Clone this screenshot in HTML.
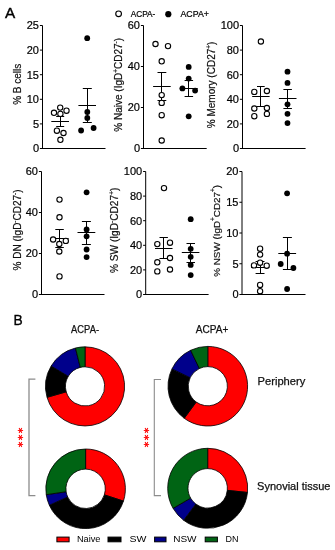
<!DOCTYPE html>
<html><head><meta charset="utf-8"><title>Figure</title>
<style>html,body{margin:0;padding:0;background:#fff;width:335px;height:550px;overflow:hidden}</style>
</head><body>
<svg width="335" height="550" viewBox="0 0 335 550" style="display:block;font-family:'Liberation Sans', Arial, sans-serif"><line x1="42.5" y1="25.5" x2="42.5" y2="149" stroke="#000" stroke-width="1"/>
<line x1="42" y1="148.5" x2="105.5" y2="148.5" stroke="#000" stroke-width="1"/>
<line x1="39.9" y1="148.5" x2="42.5" y2="148.5" stroke="#000" stroke-width="1"/>
<text x="39" y="152.4" font-size="11" text-anchor="end" fill="#000" stroke="#000" stroke-width="0.2">0</text>
<line x1="39.9" y1="123.9" x2="42.5" y2="123.9" stroke="#000" stroke-width="1"/>
<text x="39" y="127.8" font-size="11" text-anchor="end" fill="#000" stroke="#000" stroke-width="0.2">5</text>
<line x1="39.9" y1="99.3" x2="42.5" y2="99.3" stroke="#000" stroke-width="1"/>
<text x="39" y="103.2" font-size="11" text-anchor="end" fill="#000" stroke="#000" stroke-width="0.2">10</text>
<line x1="39.9" y1="74.7" x2="42.5" y2="74.7" stroke="#000" stroke-width="1"/>
<text x="39" y="78.6" font-size="11" text-anchor="end" fill="#000" stroke="#000" stroke-width="0.2">15</text>
<line x1="39.9" y1="50.1" x2="42.5" y2="50.1" stroke="#000" stroke-width="1"/>
<text x="39" y="54" font-size="11" text-anchor="end" fill="#000" stroke="#000" stroke-width="0.2">20</text>
<line x1="39.9" y1="25.5" x2="42.5" y2="25.5" stroke="#000" stroke-width="1"/>
<text x="39" y="29.4" font-size="11" text-anchor="end" fill="#000" stroke="#000" stroke-width="0.2">25</text>
<line x1="60.5" y1="116.5" x2="60.5" y2="126.5" stroke="#000" stroke-width="1"/>
<line x1="51.3" y1="121.5" x2="69" y2="121.5" stroke="#000" stroke-width="1"/>
<line x1="56.2" y1="116.5" x2="64.2" y2="116.5" stroke="#000" stroke-width="1"/>
<line x1="56.2" y1="126.5" x2="64.2" y2="126.5" stroke="#000" stroke-width="1"/>
<line x1="87.5" y1="88.5" x2="87.5" y2="122.5" stroke="#000" stroke-width="1"/>
<line x1="78.4" y1="105.5" x2="96" y2="105.5" stroke="#000" stroke-width="1"/>
<line x1="82.8" y1="88.5" x2="91.8" y2="88.5" stroke="#000" stroke-width="1"/>
<line x1="82.8" y1="122.5" x2="91.8" y2="122.5" stroke="#000" stroke-width="1"/>
<circle cx="60.2" cy="107.6" r="2.65" fill="#fff" stroke="#000" stroke-width="1.1"/>
<circle cx="54" cy="112.8" r="2.65" fill="#fff" stroke="#000" stroke-width="1.1"/>
<circle cx="66.5" cy="110.7" r="2.65" fill="#fff" stroke="#000" stroke-width="1.1"/>
<circle cx="60.4" cy="113.9" r="2.65" fill="#fff" stroke="#000" stroke-width="1.1"/>
<circle cx="56.9" cy="130.7" r="2.65" fill="#fff" stroke="#000" stroke-width="1.1"/>
<circle cx="63.5" cy="133" r="2.65" fill="#fff" stroke="#000" stroke-width="1.1"/>
<circle cx="60.4" cy="139.8" r="2.65" fill="#fff" stroke="#000" stroke-width="1.1"/>
<circle cx="87.2" cy="38.2" r="2.9" fill="#000"/>
<circle cx="87.3" cy="112" r="2.9" fill="#000"/>
<circle cx="87.3" cy="118" r="2.9" fill="#000"/>
<circle cx="81.1" cy="130.5" r="2.9" fill="#000"/>
<circle cx="93.6" cy="128" r="2.9" fill="#000"/>
<text transform="translate(20.6,84.3) rotate(-90)" font-size="10" text-anchor="middle" fill="#111" stroke="#111" stroke-width="0.2">% B cells</text>
<line x1="143.5" y1="25.5" x2="143.5" y2="149" stroke="#000" stroke-width="1"/>
<line x1="143" y1="148.5" x2="206.7" y2="148.5" stroke="#000" stroke-width="1"/>
<line x1="140.9" y1="148.5" x2="143.5" y2="148.5" stroke="#000" stroke-width="1"/>
<text x="140" y="152.4" font-size="11" text-anchor="end" fill="#000" stroke="#000" stroke-width="0.2">0</text>
<line x1="140.9" y1="107.5" x2="143.5" y2="107.5" stroke="#000" stroke-width="1"/>
<text x="140" y="111.4" font-size="11" text-anchor="end" fill="#000" stroke="#000" stroke-width="0.2">20</text>
<line x1="140.9" y1="66.5" x2="143.5" y2="66.5" stroke="#000" stroke-width="1"/>
<text x="140" y="70.4" font-size="11" text-anchor="end" fill="#000" stroke="#000" stroke-width="0.2">40</text>
<line x1="140.9" y1="25.5" x2="143.5" y2="25.5" stroke="#000" stroke-width="1"/>
<text x="140" y="29.4" font-size="11" text-anchor="end" fill="#000" stroke="#000" stroke-width="0.2">60</text>
<line x1="161.5" y1="72.5" x2="161.5" y2="100.5" stroke="#000" stroke-width="1"/>
<line x1="153.1" y1="86.5" x2="170.7" y2="86.5" stroke="#000" stroke-width="1"/>
<line x1="157.5" y1="72.5" x2="166.3" y2="72.5" stroke="#000" stroke-width="1"/>
<line x1="157.5" y1="100.5" x2="166.3" y2="100.5" stroke="#000" stroke-width="1"/>
<line x1="188.5" y1="80.5" x2="188.5" y2="96.5" stroke="#000" stroke-width="1"/>
<line x1="179.8" y1="88.5" x2="197.7" y2="88.5" stroke="#000" stroke-width="1"/>
<line x1="184.6" y1="80.5" x2="193.1" y2="80.5" stroke="#000" stroke-width="1"/>
<line x1="184.6" y1="96.5" x2="193.1" y2="96.5" stroke="#000" stroke-width="1"/>
<circle cx="155.5" cy="44" r="2.65" fill="#fff" stroke="#000" stroke-width="1.1"/>
<circle cx="168" cy="46.1" r="2.65" fill="#fff" stroke="#000" stroke-width="1.1"/>
<circle cx="161.7" cy="61.3" r="2.65" fill="#fff" stroke="#000" stroke-width="1.1"/>
<circle cx="161.7" cy="95.1" r="2.65" fill="#fff" stroke="#000" stroke-width="1.1"/>
<circle cx="161.7" cy="102.9" r="2.65" fill="#fff" stroke="#000" stroke-width="1.1"/>
<circle cx="161.7" cy="115.2" r="2.65" fill="#fff" stroke="#000" stroke-width="1.1"/>
<circle cx="161.7" cy="140.5" r="2.65" fill="#fff" stroke="#000" stroke-width="1.1"/>
<circle cx="188.7" cy="66.9" r="2.9" fill="#000"/>
<circle cx="188.7" cy="78.6" r="2.9" fill="#000"/>
<circle cx="182.4" cy="88.4" r="2.9" fill="#000"/>
<circle cx="195.1" cy="90.6" r="2.9" fill="#000"/>
<circle cx="188.7" cy="116.3" r="2.9" fill="#000"/>
<text transform="translate(121.8,84.8) rotate(-90)" font-size="10" text-anchor="middle" fill="#111" stroke="#111" stroke-width="0.2">% Naive (IgD<tspan font-size="6.5" dy="-4.3">+</tspan><tspan dy="4.3">CD27</tspan><tspan font-size="6.5" dy="-4.3">-</tspan><tspan dy="4.3">)</tspan></text>
<line x1="242.5" y1="25.5" x2="242.5" y2="149" stroke="#000" stroke-width="1"/>
<line x1="242" y1="148.5" x2="305.6" y2="148.5" stroke="#000" stroke-width="1"/>
<line x1="239.9" y1="148.5" x2="242.5" y2="148.5" stroke="#000" stroke-width="1"/>
<text x="239" y="152.4" font-size="11" text-anchor="end" fill="#000" stroke="#000" stroke-width="0.2">0</text>
<line x1="239.9" y1="123.9" x2="242.5" y2="123.9" stroke="#000" stroke-width="1"/>
<text x="239" y="127.8" font-size="11" text-anchor="end" fill="#000" stroke="#000" stroke-width="0.2">20</text>
<line x1="239.9" y1="99.3" x2="242.5" y2="99.3" stroke="#000" stroke-width="1"/>
<text x="239" y="103.2" font-size="11" text-anchor="end" fill="#000" stroke="#000" stroke-width="0.2">40</text>
<line x1="239.9" y1="74.7" x2="242.5" y2="74.7" stroke="#000" stroke-width="1"/>
<text x="239" y="78.6" font-size="11" text-anchor="end" fill="#000" stroke="#000" stroke-width="0.2">60</text>
<line x1="239.9" y1="50.1" x2="242.5" y2="50.1" stroke="#000" stroke-width="1"/>
<text x="239" y="54" font-size="11" text-anchor="end" fill="#000" stroke="#000" stroke-width="0.2">80</text>
<line x1="239.9" y1="25.5" x2="242.5" y2="25.5" stroke="#000" stroke-width="1"/>
<text x="239" y="29.4" font-size="11" text-anchor="end" fill="#000" stroke="#000" stroke-width="0.2">100</text>
<line x1="260.5" y1="86.5" x2="260.5" y2="106.5" stroke="#000" stroke-width="1"/>
<line x1="252.2" y1="96.5" x2="269.6" y2="96.5" stroke="#000" stroke-width="1"/>
<line x1="257" y1="86.5" x2="264.7" y2="86.5" stroke="#000" stroke-width="1"/>
<line x1="257" y1="106.5" x2="264.7" y2="106.5" stroke="#000" stroke-width="1"/>
<line x1="287.5" y1="89.5" x2="287.5" y2="108.5" stroke="#000" stroke-width="1"/>
<line x1="278.9" y1="98.5" x2="296.5" y2="98.5" stroke="#000" stroke-width="1"/>
<line x1="283.4" y1="89.5" x2="291.9" y2="89.5" stroke="#000" stroke-width="1"/>
<line x1="283.4" y1="108.5" x2="291.9" y2="108.5" stroke="#000" stroke-width="1"/>
<circle cx="260.9" cy="41.5" r="2.65" fill="#fff" stroke="#000" stroke-width="1.1"/>
<circle cx="254.3" cy="91.9" r="2.65" fill="#fff" stroke="#000" stroke-width="1.1"/>
<circle cx="266.9" cy="91" r="2.65" fill="#fff" stroke="#000" stroke-width="1.1"/>
<circle cx="254.3" cy="108.5" r="2.65" fill="#fff" stroke="#000" stroke-width="1.1"/>
<circle cx="266.9" cy="108" r="2.65" fill="#fff" stroke="#000" stroke-width="1.1"/>
<circle cx="254.3" cy="116.2" r="2.65" fill="#fff" stroke="#000" stroke-width="1.1"/>
<circle cx="266.9" cy="113.9" r="2.65" fill="#fff" stroke="#000" stroke-width="1.1"/>
<circle cx="287.5" cy="71.7" r="2.9" fill="#000"/>
<circle cx="287.5" cy="82.9" r="2.9" fill="#000"/>
<circle cx="287.5" cy="104.3" r="2.9" fill="#000"/>
<circle cx="287.5" cy="113.8" r="2.9" fill="#000"/>
<circle cx="287.5" cy="123.1" r="2.9" fill="#000"/>
<text transform="translate(215.2,84.9) rotate(-90)" font-size="10" text-anchor="middle" fill="#111" stroke="#111" stroke-width="0.2">% Memory (CD27<tspan font-size="6.5" dy="-4.3">+</tspan><tspan dy="4.3">)</tspan></text>
<line x1="41.5" y1="171.5" x2="41.5" y2="295" stroke="#000" stroke-width="1"/>
<line x1="41" y1="294.5" x2="104.5" y2="294.5" stroke="#000" stroke-width="1"/>
<line x1="38.9" y1="294.5" x2="41.5" y2="294.5" stroke="#000" stroke-width="1"/>
<text x="38" y="298.4" font-size="11" text-anchor="end" fill="#000" stroke="#000" stroke-width="0.2">0</text>
<line x1="38.9" y1="253.5" x2="41.5" y2="253.5" stroke="#000" stroke-width="1"/>
<text x="38" y="257.4" font-size="11" text-anchor="end" fill="#000" stroke="#000" stroke-width="0.2">20</text>
<line x1="38.9" y1="212.5" x2="41.5" y2="212.5" stroke="#000" stroke-width="1"/>
<text x="38" y="216.4" font-size="11" text-anchor="end" fill="#000" stroke="#000" stroke-width="0.2">40</text>
<line x1="38.9" y1="171.5" x2="41.5" y2="171.5" stroke="#000" stroke-width="1"/>
<text x="38" y="175.4" font-size="11" text-anchor="end" fill="#000" stroke="#000" stroke-width="0.2">60</text>
<line x1="59.5" y1="229.5" x2="59.5" y2="247.5" stroke="#000" stroke-width="1"/>
<line x1="50.5" y1="238.5" x2="68.6" y2="238.5" stroke="#000" stroke-width="1"/>
<line x1="55.3" y1="229.5" x2="63.8" y2="229.5" stroke="#000" stroke-width="1"/>
<line x1="55.3" y1="247.5" x2="63.8" y2="247.5" stroke="#000" stroke-width="1"/>
<line x1="86.5" y1="221.5" x2="86.5" y2="244.5" stroke="#000" stroke-width="1"/>
<line x1="77.5" y1="232.5" x2="95.3" y2="232.5" stroke="#000" stroke-width="1"/>
<line x1="81.9" y1="221.5" x2="90.9" y2="221.5" stroke="#000" stroke-width="1"/>
<line x1="81.9" y1="244.5" x2="90.9" y2="244.5" stroke="#000" stroke-width="1"/>
<circle cx="59.5" cy="199.6" r="2.65" fill="#fff" stroke="#000" stroke-width="1.1"/>
<circle cx="59.5" cy="217.3" r="2.65" fill="#fff" stroke="#000" stroke-width="1.1"/>
<circle cx="53.1" cy="239.5" r="2.65" fill="#fff" stroke="#000" stroke-width="1.1"/>
<circle cx="65.8" cy="240.9" r="2.65" fill="#fff" stroke="#000" stroke-width="1.1"/>
<circle cx="59.3" cy="244" r="2.65" fill="#fff" stroke="#000" stroke-width="1.1"/>
<circle cx="59.3" cy="251.5" r="2.65" fill="#fff" stroke="#000" stroke-width="1.1"/>
<circle cx="59.5" cy="276.4" r="2.65" fill="#fff" stroke="#000" stroke-width="1.1"/>
<circle cx="86.6" cy="192.3" r="2.9" fill="#000"/>
<circle cx="86.6" cy="229.4" r="2.9" fill="#000"/>
<circle cx="86.6" cy="236.3" r="2.9" fill="#000"/>
<circle cx="86.6" cy="249.5" r="2.9" fill="#000"/>
<circle cx="86.6" cy="257.1" r="2.9" fill="#000"/>
<text transform="translate(20.8,229.9) rotate(-90)" font-size="10" text-anchor="middle" fill="#111" stroke="#111" stroke-width="0.2">% DN (IgD<tspan font-size="6.5" dy="-4.3">-</tspan><tspan dy="4.3">CD27</tspan><tspan font-size="6.5" dy="-4.3">-</tspan><tspan dy="4.3">)</tspan></text>
<line x1="145.7" y1="171.5" x2="145.7" y2="295" stroke="#000" stroke-width="1"/>
<line x1="145.2" y1="294.5" x2="208.6" y2="294.5" stroke="#000" stroke-width="1"/>
<line x1="143.1" y1="294.5" x2="145.7" y2="294.5" stroke="#000" stroke-width="1"/>
<text x="142.2" y="298.4" font-size="11" text-anchor="end" fill="#000" stroke="#000" stroke-width="0.2">0</text>
<line x1="143.1" y1="269.9" x2="145.7" y2="269.9" stroke="#000" stroke-width="1"/>
<text x="142.2" y="273.8" font-size="11" text-anchor="end" fill="#000" stroke="#000" stroke-width="0.2">20</text>
<line x1="143.1" y1="245.3" x2="145.7" y2="245.3" stroke="#000" stroke-width="1"/>
<text x="142.2" y="249.2" font-size="11" text-anchor="end" fill="#000" stroke="#000" stroke-width="0.2">40</text>
<line x1="143.1" y1="220.7" x2="145.7" y2="220.7" stroke="#000" stroke-width="1"/>
<text x="142.2" y="224.6" font-size="11" text-anchor="end" fill="#000" stroke="#000" stroke-width="0.2">60</text>
<line x1="143.1" y1="196.1" x2="145.7" y2="196.1" stroke="#000" stroke-width="1"/>
<text x="142.2" y="200" font-size="11" text-anchor="end" fill="#000" stroke="#000" stroke-width="0.2">80</text>
<line x1="143.1" y1="171.5" x2="145.7" y2="171.5" stroke="#000" stroke-width="1"/>
<text x="142.2" y="175.4" font-size="11" text-anchor="end" fill="#000" stroke="#000" stroke-width="0.2">100</text>
<line x1="163.5" y1="237.5" x2="163.5" y2="258.5" stroke="#000" stroke-width="1"/>
<line x1="155" y1="248.5" x2="172.5" y2="248.5" stroke="#000" stroke-width="1"/>
<line x1="159.5" y1="237.5" x2="167.9" y2="237.5" stroke="#000" stroke-width="1"/>
<line x1="159.5" y1="258.5" x2="167.9" y2="258.5" stroke="#000" stroke-width="1"/>
<line x1="190.5" y1="243.5" x2="190.5" y2="262.5" stroke="#000" stroke-width="1"/>
<line x1="181.8" y1="252.5" x2="199.4" y2="252.5" stroke="#000" stroke-width="1"/>
<line x1="186.5" y1="243.5" x2="195" y2="243.5" stroke="#000" stroke-width="1"/>
<line x1="186.5" y1="262.5" x2="195" y2="262.5" stroke="#000" stroke-width="1"/>
<circle cx="164" cy="188.1" r="2.65" fill="#fff" stroke="#000" stroke-width="1.1"/>
<circle cx="157.3" cy="244.1" r="2.65" fill="#fff" stroke="#000" stroke-width="1.1"/>
<circle cx="170" cy="242.7" r="2.65" fill="#fff" stroke="#000" stroke-width="1.1"/>
<circle cx="170" cy="258" r="2.65" fill="#fff" stroke="#000" stroke-width="1.1"/>
<circle cx="157.3" cy="262.3" r="2.65" fill="#fff" stroke="#000" stroke-width="1.1"/>
<circle cx="157.3" cy="271.4" r="2.65" fill="#fff" stroke="#000" stroke-width="1.1"/>
<circle cx="170" cy="269.5" r="2.65" fill="#fff" stroke="#000" stroke-width="1.1"/>
<circle cx="190.7" cy="219.2" r="2.9" fill="#000"/>
<circle cx="190.7" cy="248.8" r="2.9" fill="#000"/>
<circle cx="190.7" cy="256.8" r="2.9" fill="#000"/>
<circle cx="190.7" cy="264.9" r="2.9" fill="#000"/>
<circle cx="190.7" cy="275.1" r="2.9" fill="#000"/>
<text transform="translate(117.9,230.35) rotate(-90)" font-size="10.13" text-anchor="middle" fill="#111" stroke="#111" stroke-width="0.2">% SW (IgD<tspan font-size="6.5" dy="-4.3">-</tspan><tspan dy="4.3">CD27</tspan><tspan font-size="6.5" dy="-4.3">+</tspan><tspan dy="4.3">)</tspan></text>
<line x1="242" y1="171.5" x2="242" y2="295" stroke="#000" stroke-width="1"/>
<line x1="241.5" y1="294.5" x2="305.5" y2="294.5" stroke="#000" stroke-width="1"/>
<line x1="239.4" y1="294.5" x2="242" y2="294.5" stroke="#000" stroke-width="1"/>
<text x="238.5" y="298.4" font-size="11" text-anchor="end" fill="#000" stroke="#000" stroke-width="0.2">0</text>
<line x1="239.4" y1="263.75" x2="242" y2="263.75" stroke="#000" stroke-width="1"/>
<text x="238.5" y="267.65" font-size="11" text-anchor="end" fill="#000" stroke="#000" stroke-width="0.2">5</text>
<line x1="239.4" y1="233" x2="242" y2="233" stroke="#000" stroke-width="1"/>
<text x="238.5" y="236.9" font-size="11" text-anchor="end" fill="#000" stroke="#000" stroke-width="0.2">10</text>
<line x1="239.4" y1="202.25" x2="242" y2="202.25" stroke="#000" stroke-width="1"/>
<text x="238.5" y="206.15" font-size="11" text-anchor="end" fill="#000" stroke="#000" stroke-width="0.2">15</text>
<line x1="239.4" y1="171.5" x2="242" y2="171.5" stroke="#000" stroke-width="1"/>
<text x="238.5" y="175.4" font-size="11" text-anchor="end" fill="#000" stroke="#000" stroke-width="0.2">20</text>
<line x1="260.5" y1="261.5" x2="260.5" y2="273.5" stroke="#000" stroke-width="1"/>
<line x1="251" y1="267.5" x2="269.2" y2="267.5" stroke="#000" stroke-width="1"/>
<line x1="255.6" y1="261.5" x2="264.5" y2="261.5" stroke="#000" stroke-width="1"/>
<line x1="255.6" y1="273.5" x2="264.5" y2="273.5" stroke="#000" stroke-width="1"/>
<line x1="287.5" y1="237.5" x2="287.5" y2="269.5" stroke="#000" stroke-width="1"/>
<line x1="278.3" y1="253.5" x2="296.1" y2="253.5" stroke="#000" stroke-width="1"/>
<line x1="282.9" y1="237.5" x2="291.9" y2="237.5" stroke="#000" stroke-width="1"/>
<line x1="282.9" y1="269.5" x2="291.9" y2="269.5" stroke="#000" stroke-width="1"/>
<circle cx="260.1" cy="248.7" r="2.65" fill="#fff" stroke="#000" stroke-width="1.1"/>
<circle cx="260.1" cy="254.6" r="2.65" fill="#fff" stroke="#000" stroke-width="1.1"/>
<circle cx="254" cy="265.4" r="2.65" fill="#fff" stroke="#000" stroke-width="1.1"/>
<circle cx="260.1" cy="262.7" r="2.65" fill="#fff" stroke="#000" stroke-width="1.1"/>
<circle cx="266.7" cy="265.7" r="2.65" fill="#fff" stroke="#000" stroke-width="1.1"/>
<circle cx="260.1" cy="284.9" r="2.65" fill="#fff" stroke="#000" stroke-width="1.1"/>
<circle cx="260.1" cy="291.2" r="2.65" fill="#fff" stroke="#000" stroke-width="1.1"/>
<circle cx="287.1" cy="193.3" r="2.9" fill="#000"/>
<circle cx="287.1" cy="253.7" r="2.9" fill="#000"/>
<circle cx="280.7" cy="264" r="2.9" fill="#000"/>
<circle cx="293.4" cy="268" r="2.9" fill="#000"/>
<circle cx="287.1" cy="289" r="2.9" fill="#000"/>
<text transform="translate(219.7,230.85) rotate(-90)" font-size="9.84" text-anchor="middle" fill="#111" stroke="#111" stroke-width="0.2">% NSW (IgD<tspan font-size="6.5" dy="-4.3">+</tspan><tspan dy="4.3">CD27</tspan><tspan font-size="6.5" dy="-4.3">+</tspan><tspan dy="4.3">)</tspan></text>
<text x="5" y="17.6" font-size="15.3" text-anchor="start" fill="#000" stroke="#000" stroke-width="0.4">A</text>
<circle cx="118.6" cy="13.8" r="2.85" fill="#fff" stroke="#000" stroke-width="1.15"/>
<text x="130.7" y="17.2" font-size="8.3" text-anchor="start" fill="#000" textLength="24.6" lengthAdjust="spacingAndGlyphs" stroke="#000" stroke-width="0.2">ACPA-</text>
<circle cx="168.3" cy="14.2" r="3.1" fill="#000"/>
<text x="180.5" y="17.2" font-size="8.3" text-anchor="start" fill="#000" textLength="28.4" lengthAdjust="spacingAndGlyphs" stroke="#000" stroke-width="0.2">ACPA+</text>
<path d="M85.05,346.85 A39.55,39.55 0 1 1 47.03,397.30 L66.21,391.80 A19.6,19.6 0 1 0 85.05,366.80 Z" fill="#ff0000" stroke="#000" stroke-width="0.8" stroke-linejoin="round"/>
<path d="M47.03,397.30 A39.55,39.55 0 0 1 51.15,366.03 L68.25,376.31 A19.6,19.6 0 0 0 66.21,391.80 Z" fill="#000000" stroke="#000" stroke-width="0.8" stroke-linejoin="round"/>
<path d="M51.15,366.03 A39.55,39.55 0 0 1 75.48,348.02 L80.31,367.38 A19.6,19.6 0 0 0 68.25,376.31 Z" fill="#00008b" stroke="#000" stroke-width="0.8" stroke-linejoin="round"/>
<path d="M75.48,348.02 A39.55,39.55 0 0 1 85.05,346.85 L85.05,366.80 A19.6,19.6 0 0 0 80.31,367.38 Z" fill="#006414" stroke="#000" stroke-width="0.8" stroke-linejoin="round"/>
<path d="M207.80,346.40 A39.8,39.8 0 1 1 184.24,418.28 L196.20,402.00 A19.6,19.6 0 1 0 207.80,366.60 Z" fill="#ff0000" stroke="#000" stroke-width="0.8" stroke-linejoin="round"/>
<path d="M184.24,418.28 A39.8,39.8 0 0 1 171.97,368.88 L190.15,377.67 A19.6,19.6 0 0 0 196.20,402.00 Z" fill="#000000" stroke="#000" stroke-width="0.8" stroke-linejoin="round"/>
<path d="M171.97,368.88 A39.8,39.8 0 0 1 190.67,350.28 L199.36,368.51 A19.6,19.6 0 0 0 190.15,377.67 Z" fill="#00008b" stroke="#000" stroke-width="0.8" stroke-linejoin="round"/>
<path d="M190.67,350.28 A39.8,39.8 0 0 1 207.80,346.40 L207.80,366.60 A19.6,19.6 0 0 0 199.36,368.51 Z" fill="#006414" stroke="#000" stroke-width="0.8" stroke-linejoin="round"/>
<path d="M85.60,449.00 A39.8,39.8 0 0 1 123.45,501.10 L104.34,494.89 A19.7,19.7 0 0 0 85.60,469.10 Z" fill="#ff0000" stroke="#000" stroke-width="0.8" stroke-linejoin="round"/>
<path d="M123.45,501.10 A39.8,39.8 0 0 1 49.35,505.24 L67.66,496.94 A19.7,19.7 0 0 0 104.34,494.89 Z" fill="#000000" stroke="#000" stroke-width="0.8" stroke-linejoin="round"/>
<path d="M49.35,505.24 A39.8,39.8 0 0 1 46.24,494.68 L66.12,491.71 A19.7,19.7 0 0 0 67.66,496.94 Z" fill="#00008b" stroke="#000" stroke-width="0.8" stroke-linejoin="round"/>
<path d="M46.24,494.68 A39.8,39.8 0 0 1 85.60,449.00 L85.60,469.10 A19.7,19.7 0 0 0 66.12,491.71 Z" fill="#006414" stroke="#000" stroke-width="0.8" stroke-linejoin="round"/>
<path d="M207.70,448.30 A40,40 0 0 1 247.48,492.48 L227.29,490.36 A19.7,19.7 0 0 0 207.70,468.60 Z" fill="#ff0000" stroke="#000" stroke-width="0.8" stroke-linejoin="round"/>
<path d="M247.48,492.48 A40,40 0 0 1 183.63,520.25 L195.84,504.03 A19.7,19.7 0 0 0 227.29,490.36 Z" fill="#000000" stroke="#000" stroke-width="0.8" stroke-linejoin="round"/>
<path d="M183.63,520.25 A40,40 0 0 1 173.06,508.30 L190.64,498.15 A19.7,19.7 0 0 0 195.84,504.03 Z" fill="#00008b" stroke="#000" stroke-width="0.8" stroke-linejoin="round"/>
<path d="M173.06,508.30 A40,40 0 0 1 207.70,448.30 L207.70,468.60 A19.7,19.7 0 0 0 190.64,498.15 Z" fill="#006414" stroke="#000" stroke-width="0.8" stroke-linejoin="round"/>
<text x="13.4" y="324.6" font-size="15.3" text-anchor="start" fill="#000" textLength="9.2" lengthAdjust="spacingAndGlyphs" stroke="#000" stroke-width="0.35">B</text>
<text x="71.1" y="332.9" font-size="10.5" text-anchor="start" fill="#111" textLength="27.9" lengthAdjust="spacingAndGlyphs" stroke="#111" stroke-width="0.25">ACPA-</text>
<text x="195.8" y="332.9" font-size="10.5" text-anchor="start" fill="#111" textLength="32.6" lengthAdjust="spacingAndGlyphs" stroke="#111" stroke-width="0.25">ACPA+</text>
<text x="257.6" y="385.3" font-size="11" text-anchor="start" fill="#111" textLength="47.7" lengthAdjust="spacingAndGlyphs" stroke="#111" stroke-width="0.25">Periphery</text>
<text x="257.1" y="489.6" font-size="11" text-anchor="start" fill="#111" textLength="73.3" lengthAdjust="spacingAndGlyphs" stroke="#111" stroke-width="0.25">Synovial tissue</text>
<path d="M35.4,379.2 H29 V495.7 H35.4" fill="none" stroke="#8c8c8c" stroke-width="1.3"/>
<path d="M161,379.5 H154.3 V495.6 H161" fill="none" stroke="#8c8c8c" stroke-width="1.1"/>
<text transform="translate(25.8,437.5) rotate(-90)" font-size="11" font-family="DejaVu Sans Mono, monospace" fill="#ff0000" stroke="#ff0000" stroke-width="0.4" text-anchor="middle" x="-7 0 7" y="0">***</text>
<text transform="translate(151.7,437.5) rotate(-90)" font-size="11" font-family="DejaVu Sans Mono, monospace" fill="#ff0000" stroke="#ff0000" stroke-width="0.4" text-anchor="middle" x="-7 0 7" y="0">***</text>
<rect x="56.9" y="537.1" width="12.2" height="4.7" fill="#ff0000" stroke="#000" stroke-width="1"/>
<rect x="108.0" y="537.1" width="13.0" height="4.7" fill="#000000" stroke="#000" stroke-width="1"/>
<rect x="154.6" y="537.1" width="11.4" height="4.7" fill="#00008b" stroke="#000" stroke-width="1"/>
<rect x="205.2" y="537.1" width="12.2" height="4.7" fill="#006414" stroke="#000" stroke-width="1"/>
<text x="76.9" y="542" font-size="9.3" text-anchor="start" fill="#000" textLength="23.6" lengthAdjust="spacingAndGlyphs" >Naive</text>
<text x="129.4" y="542" font-size="9.3" text-anchor="start" fill="#000" textLength="16.9" lengthAdjust="spacingAndGlyphs" >SW</text>
<text x="173.2" y="542" font-size="9.3" text-anchor="start" fill="#000" textLength="23.4" lengthAdjust="spacingAndGlyphs" >NSW</text>
<text x="225.5" y="542" font-size="9.3" text-anchor="start" fill="#000" textLength="13" lengthAdjust="spacingAndGlyphs" >DN</text></svg>
</body></html>
